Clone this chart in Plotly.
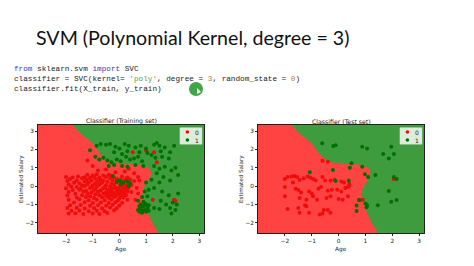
import plotly.graph_objects as go

W, H = 474, 266

# ---------------- data ----------------
x_range_train = [-3.05, 3.17]
x_range_test = [-3.0, 3.18]
y_range = [-2.56, 3.33]
tick_vals = [-2, -1, 0, 1, 2, 3]

# decision boundary, from top edge to bottom edge
boundary_x = [-1.85, -1.75, -1.45, -1.0, -0.7, -0.45, -0.2, 0.2, 0.6, 0.9, 1.1, 1.2, 1.15, 1.02, 0.9, 0.86, 0.9, 1.02, 1.2, 1.46, 1.55]
boundary_y = [3.6, 3.33, 2.85, 2.33, 1.72, 1.42, 1.27, 1.22, 1.2, 1.13, 1.0, 0.75, 0.45, 0.2, -0.1, -0.45, -0.8, -1.3, -1.9, -2.56, -2.8]

train_red = [(-1.2,0.62),(-1.0,0.58),(-0.85,0.64),(-0.6,0.57),(-0.4,0.61),(-0.3,0.55),
(-2.0,0.5),(-1.75,0.46),(-1.55,0.52),(-1.3,0.48),(-1.1,0.45),(-0.95,0.52),(-0.75,0.47),(-0.5,0.5),(-0.2,0.46),(0.1,0.52),(0.3,0.47),
(-1.85,0.38),(-1.4,0.42),(-1.22,0.36),(-0.9,0.4),(-0.7,0.35),(-0.35,0.41),(-0.1,0.38),(0.05,0.33),(0.25,0.4),(0.4,0.36),
(-1.95,0.28),(-1.6,0.3),(-1.3,0.25),(-1.05,0.31),(-0.8,0.27),(-0.6,0.3),(-0.45,0.24),(-0.25,0.29),(0.0,0.26),(0.2,0.3),(0.35,0.22),(0.55,0.28),
(-1.7,0.18),(-1.5,0.14),(-1.15,0.2),(-0.9,0.15),(-0.65,0.18),(-0.3,0.12),(-0.1,0.2),(0.15,0.15),(0.3,0.1),
(-1.9,0.08),(-1.4,0.05),(-1.2,0.1),(-1.0,0.03),(-0.75,0.08),(-0.5,0.04),(-0.2,0.07),(0.05,0.1),(0.25,0.02),(0.45,0.06),
(-1.8,-0.02),(-1.6,-0.05),(-1.3,0.0),(-1.05,-0.06),(-0.85,-0.02),(-0.55,-0.07),(-0.35,-0.03),(-0.15,-0.08),(0.0,-0.04),(0.1,0.0),(0.35,-0.06),
(-2.0,-0.12),(-1.45,-0.14),(-1.1,-0.1),(-0.9,-0.16),(-0.6,-0.12),(-0.3,-0.15),(-0.2,-0.1),(-0.05,-0.14),(0.2,-0.11),(0.3,-0.16),
(-1.75,-0.22),(-1.5,-0.2),(-1.25,-0.25),(-0.95,-0.21),(-0.7,-0.24),(-0.45,-0.2),(-0.3,-0.26),(-0.1,-0.22),(0.0,-0.27),(0.1,-0.2),(0.25,-0.24),
(-1.9,-0.32),(-1.35,-0.3),(-1.05,-0.35),(-0.8,-0.31),(-0.5,-0.34),(-0.35,-0.3),(-0.2,-0.36),(-0.05,-0.32),(0.15,-0.35),(0.3,-0.3),(0.45,-0.33),
(-1.65,-0.42),(-1.2,-0.4),(-0.9,-0.45),(-0.6,-0.41),(-0.4,-0.44),(-0.25,-0.4),(-0.1,-0.46),(0.0,-0.42),(0.1,-0.38),(0.2,-0.44),
(-1.95,-0.52),(-1.4,-0.5),(-1.1,-0.55),(-0.75,-0.5),(-0.5,-0.54),(-0.3,-0.5),(-0.15,-0.56),(0.05,-0.52),(0.25,-0.5),
(-1.6,-0.62),(-1.25,-0.6),(-0.95,-0.65),(-0.65,-0.61),(-0.4,-0.64),(-0.2,-0.6),(0.0,-0.66),(0.15,-0.62),
(-1.9,-0.75),(-1.5,-0.72),(-1.15,-0.78),(-0.85,-0.74),(-0.55,-0.77),(-0.3,-0.73),(-0.05,-0.78),(0.3,-0.74),(0.6,-0.76),
(-1.7,-0.9),(-1.3,-0.88),(-1.0,-0.93),(-0.7,-0.89),(-0.4,-0.92),(-0.15,-0.88),(0.1,-0.91),
(-1.85,-1.05),(-1.45,-1.03),(-1.1,-1.08),(-0.8,-1.04),(-0.5,-1.07),(-0.25,-1.02),(0.0,-1.06),
(-1.95,-1.2),(-1.6,-1.18),(-1.3,-1.23),(-0.95,-1.19),(-0.65,-1.22),(-0.35,-1.17),(-0.1,-1.21),
(-1.8,-1.35),(-1.5,-1.33),(-1.15,-1.38),(-0.85,-1.34),(-0.55,-1.37),(-0.2,-1.32),
(-1.9,-1.5),(-1.65,-1.48),(-1.35,-1.53),(-1.0,-1.49),(-0.75,-1.52),(-0.45,-1.47),
(-1.2,1.4),(-1.0,1.1),(-0.8,0.85),(-0.5,0.9),(-0.15,0.75),(0.2,0.8),(0.35,0.95),(0.55,0.7),(0.7,0.5),(0.75,0.3),(0.65,-0.1),(0.7,-0.4),
(0.5,1.85),(1.0,1.95),(1.3,1.85),(1.4,1.3),(1.25,-0.75),(2.05,-0.75),(2.1,-0.82)]

train_green = [(-1.1,1.95),(-0.85,2.2),(-0.7,2.3),(-0.5,2.25),(-0.35,2.3),(-0.15,2.15),(0.0,2.05),(0.2,2.3),(0.35,2.2),(0.6,2.1),(0.8,2.2),(1.0,2.05),(1.3,2.25),(1.4,2.35),(1.5,2.2),(1.7,2.1),(2.05,2.2),
(-0.9,1.6),(-0.75,1.45),(-0.6,1.55),(-0.45,1.4),(-0.3,1.3),(-0.1,1.45),(0.05,1.35),(0.25,1.6),(0.4,1.45),(0.55,1.5),(0.7,1.6),(0.85,1.35),(1.05,1.8),(1.2,1.7),(1.35,1.55),(1.6,1.6),(1.85,1.5),
(0.1,1.75),(0.3,1.9),(-0.2,1.85),(0.75,1.85),(1.55,1.9),(1.9,1.85),
(-0.4,1.1),(-0.2,1.15),(0.1,1.1),(0.3,1.05),(0.6,1.15),(0.9,1.1),(1.3,1.1),(1.5,0.95),(1.7,1.05),(1.95,0.85),(2.1,1.0),(1.4,0.7),(1.65,0.5),(1.9,0.3),(2.2,0.6),(1.5,0.2),
(-0.1,0.25),(0.0,0.3),(0.15,0.2),(0.3,0.25),(0.4,0.15),(0.05,0.1),(-0.25,0.55),(0.35,0.0),
(1.2,0.35),(1.3,-0.1),(1.6,-0.3),(1.85,-0.5),(2.0,-0.9),(2.15,-1.0),(1.9,-1.2),(1.75,-1.0),(1.5,-1.25),(1.3,-1.2),(1.55,-0.8),(2.1,-1.3),(1.95,-1.5),(2.2,-0.4),(1.1,-0.2),(1.0,0.2),
(0.7,-1.3),(0.75,-1.4),(0.8,-1.2),(0.85,-1.35),(0.9,-1.1),(0.95,-1.3),(1.0,-1.0),(1.05,-1.2),(0.8,-1.0),(0.9,-0.85),(1.0,-1.4),(0.75,-1.1),(1.1,-1.05),(0.95,-0.95),(0.85,-1.45),(1.1,-1.35),(0.7,-0.8),(0.85,-0.6),(0.95,-0.3),(1.05,-0.55)]

test_red = [(-2.0,0.38),(-1.9,0.5),(-1.75,0.52),(-1.65,0.55),(-1.55,0.5),(-1.45,0.33),(-1.3,0.42),(-1.15,0.52),(-1.05,0.45),(-0.95,0.38),(-0.85,0.3),(-0.6,0.5),(-0.3,0.3),(-0.15,0.35),(0.1,0.25),(0.2,0.2),(0.4,0.1),
(-2.0,-0.05),(-1.6,-0.15),(-1.5,-0.22),(-1.4,-0.35),(-1.1,-0.3),(-1.0,-0.4),(-0.75,-0.15),(-0.65,-0.05),(-0.4,-0.25),(-0.25,-0.2),(-0.05,-0.2),(0.1,-0.3),(0.25,-0.1),(0.35,-0.05),(0.4,0.0),
(-2.0,-0.55),(-1.45,-0.65),(-1.2,-0.75),(-0.95,-0.55),(-0.8,-0.75),(-0.45,-0.65),(-0.3,-0.55),(0.0,-0.7),(0.15,-0.75),(0.35,-0.55),(0.8,-0.78),(0.9,-0.75),
(-1.9,-1.25),(-1.5,-1.2),(-1.45,-1.45),(-1.25,-1.05),(-1.2,-1.1),(-1.1,-1.45),(-0.7,-1.55),(-0.6,-1.5),(-0.55,-1.3),(-0.4,-1.3),(-0.3,-1.45),
(-0.6,1.38),(-0.4,1.33),(2.05,0.38),(-1.7,0.2),(-0.5,0.3)]

test_green = [(-0.61,2.33),(-0.2,2.18),(-0.11,2.22),(0.88,2.15),(1.06,2.05),(1.96,2.15),(1.66,1.75),(1.87,1.5),(2.06,1.75),
(-1.07,0.75),(-0.21,0.87),(-0.11,0.27),(0.38,0.29),(0.42,1.0),(0.48,1.24),(0.88,1.05),(0.98,0.64),(1.1,0.5),(1.37,0.6),(2.06,0.5),(2.16,0.38),
(1.87,-0.27),(1.96,-0.85),(2.16,-0.76),(1.46,-1.04),(1.0,-0.95),(1.06,-1.04),(1.04,-1.16),(0.67,-1.06),(0.67,-1.36),(0.76,-0.76)]

legend_labels = ["0", "1"]
panel_titles = ["Classifier (Training set)", "Classifier (Test set)"]
x_label = "Age"
y_label = "Estimated Salary"

# ---------------- style ----------------
RED_BG = "rgb(255,66,66)"
GREEN_BG = "rgb(62,156,62)"
RED_PT = "rgb(238,12,12)"
GREEN_PT = "rgb(0,112,0)"
FONT = "DejaVu Sans"

fig = go.Figure()

panels = [
    dict(xa="x", ya="y", xr=x_range_train, red=train_red, green=train_green),
    dict(xa="x2", ya="y2", xr=x_range_test, red=test_red, green=test_green),
]

for p in panels:
    xmin = p["xr"][0] - 1
    ymin = y_range[0] - 1
    ymax = y_range[1] + 1
    poly_x = [xmin] + boundary_x + [xmin]
    poly_y = [ymax] + boundary_y + [ymin]
    fig.add_trace(go.Scatter(x=poly_x, y=poly_y, mode="lines", fill="toself",
                             fillcolor=RED_BG, line=dict(width=0), hoverinfo="skip",
                             showlegend=False, xaxis=p["xa"], yaxis=p["ya"]))
    for pts, col in ((p["red"], RED_PT), (p["green"], GREEN_PT)):
        fig.add_trace(go.Scatter(x=[a for a, b in pts], y=[b for a, b in pts], mode="markers",
                                 marker=dict(color=col, size=4, line=dict(width=0)),
                                 showlegend=False, xaxis=p["xa"], yaxis=p["ya"]))

x_domains = [[38 / W, 204 / W], [258 / W, 424 / W]]
y_domain = [1 - 233 / H, 1 - 125 / H]

axis_common = dict(showgrid=False, zeroline=False, showline=True, mirror=True,
                   linecolor="#222", linewidth=0.8, ticks="outside", ticklen=2,
                   tickwidth=0.8, tickcolor="#222", tickvals=tick_vals,
                   tickfont=dict(family=FONT, size=5.8, color="#222"))

fig.update_layout(
    width=W, height=H, margin=dict(l=0, r=0, t=0, b=0),
    paper_bgcolor="white", plot_bgcolor=GREEN_BG,
    showlegend=False,
    xaxis=dict(domain=x_domains[0], range=x_range_train, anchor="y", **axis_common),
    yaxis=dict(domain=y_domain, range=y_range, anchor="x", **axis_common),
    xaxis2=dict(domain=x_domains[1], range=x_range_test, anchor="y2", **axis_common),
    yaxis2=dict(domain=y_domain, range=y_range, anchor="x2", **axis_common),
)

ann = []
shapes = []
for i, (xd, ttl) in enumerate(zip(x_domains, panel_titles)):
    cx = (xd[0] + xd[1]) / 2
    ann.append(dict(text=ttl, x=cx, y=1 - 121 / H, xref="paper", yref="paper",
                    showarrow=False, xanchor="center", yanchor="middle",
                    font=dict(family=FONT, size=6.2, color="#222")))
    ann.append(dict(text=x_label, x=cx, y=1 - 249 / H, xref="paper", yref="paper",
                    showarrow=False, xanchor="center", yanchor="middle",
                    font=dict(family=FONT, size=5.8, color="#222")))
    ann.append(dict(text=y_label, x=xd[0] - 17 / W, y=1 - 179 / H, xref="paper", yref="paper",
                    showarrow=False, xanchor="center", yanchor="middle", textangle=-90,
                    font=dict(family=FONT, size=5.6, color="#222")))
    # legend box
    sfx = "" if i == 0 else "2"
    xr = "x%s domain" % sfx
    yr = "y%s domain" % sfx
    shapes.append(dict(type="rect", xref=xr, yref=yr, x0=0.855, x1=0.988, y0=0.822, y1=0.975,
                       fillcolor="rgba(255,255,255,0.82)", line=dict(color="rgba(220,220,220,0.9)", width=0.5),
                       layer="above"))
    for j, (lab, col) in enumerate(zip(legend_labels, [RED_PT, GREEN_PT])):
        yy = 0.935 - j * 0.074
        shapes.append(dict(type="circle", xref=xr, yref=yr, xsizemode="pixel", ysizemode="pixel",
                           xanchor=0.9, yanchor=yy, x0=-1.8, x1=1.8, y0=-1.8, y1=1.8,
                           fillcolor=col, line=dict(width=0), layer="above"))
        ann.append(dict(text=lab, x=0.955, y=yy, xref=xr, yref=yr, showarrow=False,
                        xanchor="center", yanchor="middle",
                        font=dict(family=FONT, size=6, color="#222")))

# slide title
ann.append(dict(text="SVM (Polynomial Kernel, degree = 3)", x=34 / W, y=1 - 38 / H,
                xref="paper", yref="paper", showarrow=False, xanchor="left", yanchor="middle",
                font=dict(family="Lato", size=19.6, color="#111")))

# code lines
KW = "#3a3ab0"
STR = "#5aa050"
NUM = "#c07a30"
code_lines = [
    "<span style='color:%s'>from</span> sklearn.svm <span style='color:%s'>import</span> SVC" % (KW, KW),
    "classifier = SVC(kernel= <span style='color:%s'>'poly'</span>, degree = <span style='color:%s'>3</span>, random_state = <span style='color:%s'>0</span>)" % (STR, NUM, NUM),
    "classifier.fit(X_train, y_train)",
]
for k, line in enumerate(code_lines):
    ann.append(dict(text=line, x=12 / W, y=1 - (69 + 10.2 * k) / H, xref="paper", yref="paper",
                    showarrow=False, xanchor="left", yanchor="middle",
                    font=dict(family="Liberation Mono", size=7.7, color="#222")))

# cursor highlight
shapes.append(dict(type="circle", xref="paper", yref="paper", x0=189 / W, x1=203 / W,
                   y0=1 - 96 / H, y1=1 - 82 / H, fillcolor="rgb(64,165,70)", line=dict(width=0)))
shapes.append(dict(type="path", xref="paper", yref="paper",
                   path="M %f %f L %f %f L %f %f Z" % (197 / W, 1 - 88 / H, 197 / W, 1 - 94 / H, 201 / W, 1 - 92 / H),
                   fillcolor="white", line=dict(width=0)))

fig.update_layout(annotations=ann, shapes=shapes)
fig.write_html("out.html")
